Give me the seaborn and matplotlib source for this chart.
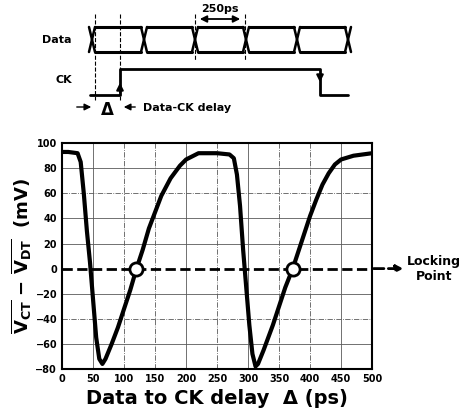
import numpy as np
import matplotlib
matplotlib.use("Agg")
import matplotlib.pyplot as plt
import seaborn as sns

delay_ps = [0, 10, 25, 30, 35, 40, 45, 50, 55, 60, 65, 70, 80, 90, 100, 110, 120, 130, 140, 150,
            160, 175, 190, 200, 220, 250, 270, 277, 282, 287, 292, 297, 302, 307, 312, 316, 325,
            340, 350, 360, 372, 380, 390, 400, 410, 420, 430, 440, 450, 470, 500]
vdiff_mv = [93, 93, 92, 85, 60, 30, 5, -25, -55, -72, -76, -72, -60, -47, -32, -17, 0, 15, 32, 45,
            58, 72, 82, 87, 92, 92, 91, 88, 75, 50, 15, -15, -45, -68, -78, -76, -65,
            -45, -30, -15, 0, 12, 27, 42, 55, 67, 76, 83, 87, 90, 92]
lock_x = [120, 372]
xticks = list(range(0, 501, 50))
yticks = list(range(-80, 101, 20))

sns.set_style("white")
plt.rcParams['font.family'] = ['DejaVu Sans']
plt.rcParams['font.weight'] = 'bold'
plt.rcParams['text.color'] = 'black'
plt.rcParams['axes.labelcolor'] = 'black'
plt.rcParams['xtick.color'] = 'black'
plt.rcParams['ytick.color'] = 'black'
plt.rcParams['axes.edgecolor'] = 'black'

fig = plt.figure(figsize=(4.74, 4.15), dpi=100)

# timing diagram in pixel space
axd = fig.add_axes([0, 0, 1, 1], zorder=0)
axd.set_xlim(0, 474); axd.set_ylim(415, 0); axd.axis('off')
trans = [92, 144, 195, 246, 297, 348]
yt, yb, w = 27, 52, 3
for a, b in zip(trans[:-1], trans[1:]):
    axd.plot([a + w, b - w], [yt, yt], 'k', lw=2.2)
    axd.plot([a + w, b - w], [yb, yb], 'k', lw=2.2)
for t in trans:
    axd.plot([t - w, t + w], [yt, yb], 'k', lw=1.8)
    axd.plot([t - w, t + w], [yb, yt], 'k', lw=1.8)
axd.text(72, 40, 'Data', ha='right', va='center', fontsize=8, fontweight='bold')
axd.text(72, 80, 'CK', ha='right', va='center', fontsize=8, fontweight='bold')
axd.plot([90, 120, 120, 320, 320, 348], [95, 95, 69, 69, 95, 95], 'k', lw=2)
axd.annotate('', xy=(120, 80), xytext=(120, 95), arrowprops=dict(arrowstyle='-|>', color='k', lw=1.5))
axd.annotate('', xy=(320, 85), xytext=(320, 72), arrowprops=dict(arrowstyle='-|>', color='k', lw=1.5))
for x in [95, 120]:
    axd.plot([x, x], [14, 100], 'k--', lw=0.8)
for x in [195, 245]:
    axd.plot([x, x], [14, 60], 'k--', lw=0.8)
axd.annotate('', xy=(197, 19), xytext=(243, 19), arrowprops=dict(arrowstyle='<|-|>', color='k', lw=1.3))
axd.text(220, 9, '250ps', ha='center', va='center', fontsize=8, fontweight='bold')
axd.annotate('', xy=(94, 107), xytext=(74, 107), arrowprops=dict(arrowstyle='-|>', color='k', lw=1))
axd.annotate('', xy=(121, 107), xytext=(138, 107), arrowprops=dict(arrowstyle='-|>', color='k', lw=1))
axd.text(107, 110, 'Δ', ha='center', va='center', fontsize=12, fontweight='bold')
axd.text(143, 108, 'Data-CK delay', ha='left', va='center', fontsize=8, fontweight='bold')

ax = fig.add_axes([0.131, 0.111, 0.654, 0.544], zorder=1)
for v in [50, 200, 300, 450]:
    ax.axvline(v, color='0.35', lw=0.6, zorder=0)
for v in [100, 150, 250, 350, 400]:
    ax.axvline(v, color='0.35', lw=0.6, ls='-.', zorder=0)
for v in [80, 40, 20, -20, -60]:
    ax.axhline(v, color='0.35', lw=0.6, zorder=0)
for v in [60, -40]:
    ax.axhline(v, color='0.35', lw=0.6, ls='-.', zorder=0)
sns.lineplot(x=delay_ps, y=vdiff_mv, ax=ax, color='k', lw=3, zorder=3)
ax.plot([0, 500], [0, 0], 'k--', lw=2, zorder=2)
ax.annotate('', xy=(555, 0), xytext=(498, 0), xycoords='data',
            arrowprops=dict(arrowstyle='-|>', color='k', lw=2, ls='--'), annotation_clip=False)
ax.text(600, 0, 'Locking\nPoint', ha='center', va='center', fontsize=9, fontweight='bold', clip_on=False)
sns.scatterplot(x=lock_x, y=[0, 0], ax=ax, s=90, color='white', edgecolor='k', linewidth=2, zorder=4)
ax.set_xlim(0, 500); ax.set_ylim(-80, 100)
ax.set_xticks(xticks); ax.set_yticks(yticks)
ax.set_xticks(range(0, 501, 25), minor=True); ax.set_yticks(range(-80, 101, 10), minor=True)
ax.tick_params(direction='in', which='both', labelsize=7, length=4)
ax.tick_params(which='minor', length=2)
for s in ax.spines.values():
    s.set_linewidth(1.5)
ax.set_xlabel('Data to CK delay  Δ (ps)', fontsize=14, fontweight='bold', labelpad=4)
ax.set_ylabel(r'$\overline{\mathbf{V_{CT}}}\ \mathbf{-}\ \overline{\mathbf{V_{DT}}}$  (mV)',
              fontsize=13, fontweight='bold', labelpad=2)
fig.savefig('out.png', dpi=100)
